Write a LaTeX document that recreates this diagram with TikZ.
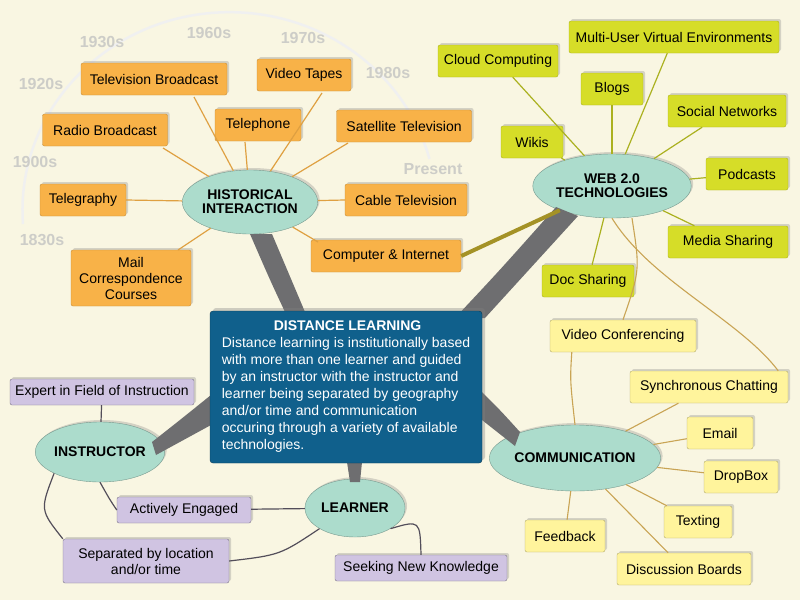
\documentclass[tikz,border=0pt]{standalone}
\usepackage{fontspec}
\setmainfont{Liberation Sans}
\usetikzlibrary{shapes.geometric,shadows}
\definecolor{bg}{RGB}{249,246,226}
\definecolor{orng}{RGB}{248,178,72}
\definecolor{grn}{RGB}{214,221,40}
\definecolor{ylw}{RGB}{255,244,156}
\definecolor{prp}{RGB}{208,196,226}
\definecolor{teal}{RGB}{172,220,204}
\definecolor{blu}{RGB}{16,96,140}
\definecolor{brgray}{RGB}{110,110,112}
\definecolor{yr}{RGB}{205,205,200}
\tikzset{
 box/.style={rounded corners=2pt,minimum height=32pt,inner sep=3pt,align=center,font=\fontsize{14}{16}\selectfont,drop shadow={opacity=0.3,shadow xshift=2pt,shadow yshift=2pt}},
 ob/.style={box,fill=orng,draw=orng!80!black},
 gb/.style={box,fill=grn,draw=grn!80!black},
 yb/.style={box,fill=ylw,draw=ylw!70!black},
 pb/.style={box,fill=prp,draw=prp!60!black,minimum height=26pt},
 hub/.style={ellipse,fill=teal,draw=teal!70!black,align=center,font=\bfseries\fontsize{14}{16}\selectfont,inner sep=0pt,drop shadow={opacity=0.3,shadow xshift=2pt,shadow yshift=2pt}},
 ol/.style={draw=orng!90!black,line width=1.2pt},
 gl/.style={draw=grn!80!black,line width=1.2pt},
 yl/.style={draw=ylw!40!orng!80!black,line width=1.1pt},
 pl/.style={draw=prp!40!black,line width=1.2pt},
 yrs/.style={text=yr,font=\bfseries\fontsize{16}{18}\selectfont},
 branch/.style={fill=brgray}
}
\begin{document}
\begin{tikzpicture}[x=1pt,y=-1pt]
\fill[bg] (0,0) rectangle (800,600);
\useasboundingbox (0,0) rectangle (800,600);
% timeline arc
\draw[white!88!gray,line width=2.5pt] (23,224) arc[start angle=184,end angle=15,x radius=207pt,y radius=198pt];
\node[yrs] (y1830) at (42,240) {1830s};
\node[yrs] (y1900) at (35,162) {1900s};
\node[yrs] (y1920) at (41,84) {1920s};
\node[yrs] (y1930) at (102,42) {1930s};
\node[yrs] (y1960) at (209,33) {1960s};
\node[yrs] (y1970) at (303,38) {1970s};
\node[yrs] (y1980) at (388,73) {1980s};
\node[yrs] (ypres) at (433,169) {Present};
% hubs
\node[hub,minimum width=130pt,minimum height=64pt] (hist) at (250,202) {HISTORICAL\\[-2pt]INTERACTION};
\node[hub,minimum width=136pt,minimum height=64pt] (web) at (612,186) {WEB 2.0\\[-2pt]TECHNOLOGIES};
\node[hub,minimum width=126pt,minimum height=66pt] (comm) at (575,458) {COMMUNICATION};
\node[hub,minimum width=110pt,minimum height=60pt] (instr) at (100,452) {INSTRUCTOR};
\node[hub,minimum width=100pt,minimum height=58pt] (learn) at (355,508) {LEARNER};
% branches
\fill[branch] (250,234) -- (272,234) -- (305,312) -- (285,312) .. controls (270,280) .. (250,234);
\fill[branch] (556,207) -- (578,216) -- (485,318) -- (455,318) .. controls (500,270) .. (556,207);
\fill[branch] (482,392) -- (482,420) -- (515,446) -- (520,432) .. controls (500,410) .. (482,392);
\fill[branch] (152,442) -- (156,455) -- (211,425) -- (211,395) .. controls (180,420) .. (152,442);
\fill[branch] (347,462) -- (362,462) -- (360,482) -- (350,482) -- cycle;
% central box
\node[rounded corners=3pt,fill=blu,draw=blu!60!black,text=white,minimum width=272pt,minimum height=152pt,align=left,inner sep=6pt,drop shadow={opacity=0.35,shadow xshift=3pt,shadow yshift=3pt},font=\fontsize{14}{17}\selectfont] (dl) at (346,387) {\hspace*{52pt}\textbf{DISTANCE LEARNING}\\Distance learning is institutionally based\\with more than one learner and guided\\by an instructor with the instructor and\\learner being separated by geography\\and/or time and communication\\occuring through a variety of available\\technologies.};
% orange
\node[ob,minimum width=146pt] (tvb) at (154,79) {Television Broadcast};
\node[ob,minimum width=94pt] (vt) at (304,75) {Video Tapes};
\node[ob,minimum width=86pt] (tel) at (258,125) {Telephone};
\node[ob,minimum width=125pt] (rad) at (105,130) {Radio Broadcast};
\node[ob,minimum width=135pt] (sat) at (404,126) {Satellite Television};
\node[ob,minimum width=86pt] (tg) at (83,200) {Telegraphy};
\node[ob,minimum width=122pt] (cab) at (406,200) {Cable Television};
\node[ob,minimum width=150pt] (ci) at (386,256) {Computer \& Internet};
\node[ob,minimum width=120pt,minimum height=56pt] (mail) at (131,278) {Mail\\Correspondence\\Courses};
\foreach \n/\a in {tvb/{(194,97)},vt/{(322,93)},tel/{(245,142)},rad/{(163,148)},sat/{(348,143)},tg/{(126,200)},cab/{(345,200)},ci/{(318,242)},mail/{(178,250)}}{
  \draw[ol] \a -- (hist);}
\draw[draw=grn!60!black!70!orng,line width=4pt] (ci.east) -- (web);
% green
\node[gb,minimum width=120pt] (cc) at (498,61) {Cloud Computing};
\node[gb,minimum width=210pt] (mu) at (674,37) {Multi-User Virtual Environments};
\node[gb,minimum width=62pt] (bl) at (612,89) {Blogs};
\node[gb,minimum width=118pt] (sn) at (727,111) {Social Networks};
\node[gb,minimum width=62pt] (wk) at (532,142) {Wikis};
\node[gb,minimum width=82pt] (pc) at (747,174) {Podcasts};
\node[gb,minimum width=120pt] (ms) at (728,242) {Media Sharing};
\node[gb,minimum width=92pt] (ds) at (588,281) {Doc Sharing};
\draw[gl] (cc) -- (web); \draw[gl] (mu) -- (web); \draw[gl] (bl) -- (web);
\draw[gl] (sn) -- (web); \draw[gl] (wk) -- (web); \draw[gl] (pc) -- (web);
\draw[gl] (ms) -- (web); \draw[gl] (ds) -- (web);
% yellow
\node[yb,minimum width=146pt] (vc) at (623,336) {Video Conferencing};
\node[yb,minimum width=158pt] (sc) at (709,387) {Synchronous Chatting};
\node[yb,minimum width=66pt] (em) at (720,433) {Email};
\node[yb,minimum width=74pt] (db) at (741,477) {DropBox};
\node[yb,minimum width=68pt] (tx) at (698,522) {Texting};
\node[yb,minimum width=80pt] (fb) at (565,536) {Feedback};
\node[yb,minimum width=134pt] (dbo) at (684,569) {Discussion Boards};
\draw[yl] (vc.south west) ++(22,0) .. controls (570,380) .. (comm.north);
\draw[yl] (sc.north east) ++(-10,0) .. controls (740,320) and (650,280) .. (web.south);
\draw[yl] (web.south) ++(20,0) .. controls (640,270) .. (vc.north);
\draw[yl] (em) -- (comm); \draw[yl] (db) -- (comm); \draw[yl] (tx) -- (comm);
\draw[yl] (fb) -- (comm); \draw[yl] (dbo) -- (comm); \draw[yl] (sc) -- (comm);
% purple
\node[pb,minimum width=184pt] (ex) at (102,392) {Expert in Field of Instruction};
\node[pb,minimum width=134pt] (ae) at (184,510) {Actively Engaged};
\node[pb,minimum width=166pt,minimum height=44pt] (sep) at (146,561) {Separated by location\\and/or time};
\node[pb,minimum width=172pt] (sk) at (421,568) {Seeking New Knowledge};
\draw[pl] (ex) -- (instr);
\draw[pl] (ae) -- (learn);
\draw[pl] (sep.east) .. controls (280,555) .. (learn.south west);
\draw[pl] (learn.south east) .. controls (420,520) .. (sk.north);
\draw[pl] (instr.south west) .. controls (40,510) .. (sep.north west);
\draw[pl] (instr.south) .. controls (110,500) .. (ae.west);
\end{tikzpicture}
\end{document}
